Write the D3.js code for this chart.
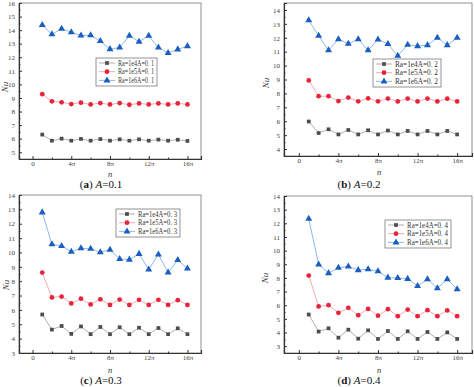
<!DOCTYPE html>
<html><head><meta charset="utf-8">
<script src="https://cdn.jsdelivr.net/npm/d3@7"></script>
<style>body{margin:0;background:#fff}svg{display:block}</style>
</head><body>
<script>
const nValues = [1,2,3,4,5,6,7,8,9,10,11,12,13,14,15,16];
const seriesNames = ["Ra=1e4","Ra=1e5","Ra=1e6"];
const aValues = ["0. 1","0. 2","0. 3","0. 4"];
const captions = ["a","b","c","d"];
const captionA = ["0.1","0.2","0.3","0.4"];
const xTickValues = [0,4,8,12,16];
const xTickLabels = ["0","4π","8π","12π","16π"];

const a1e4 = [6.3,5.85,6.0,5.85,5.98,5.85,5.97,5.85,5.95,5.85,5.95,5.85,5.93,5.85,5.92,5.83];
const a1e5 = [9.28,8.75,8.68,8.55,8.65,8.52,8.62,8.52,8.62,8.5,8.6,8.52,8.6,8.52,8.6,8.52];
const a1e6 = [14.38,13.7,14.1,13.85,13.6,13.62,13.2,12.6,12.72,13.58,13.15,13.58,12.72,12.32,12.58,12.82];

const b1e4 = [5.98,5.15,5.42,5.05,5.37,5.05,5.35,5.05,5.33,5.05,5.3,5.05,5.3,5.05,5.3,5.05];
const b1e5 = [8.93,7.8,7.8,7.45,7.7,7.43,7.65,7.43,7.63,7.42,7.63,7.42,7.63,7.42,7.62,7.42];
const b1e6 = [13.26,12.15,11.1,11.9,11.57,11.9,11.1,11.88,11.55,10.7,11.5,11.4,11.47,12.0,11.47,12.0];

const c1e4 = [5.68,4.63,4.88,4.33,4.85,4.31,4.81,4.31,4.79,4.31,4.76,4.31,4.74,4.31,4.72,4.31];
const c1e5 = [8.6,6.87,6.93,6.45,6.78,6.38,6.74,6.35,6.72,6.35,6.7,6.35,6.7,6.35,6.68,6.35];
const c1e6 = [12.79,10.57,10.45,10.05,10.29,10.25,10.02,10.19,9.54,9.5,9.9,8.81,9.86,8.6,9.47,8.88];

const d1e4 = [5.32,4.07,4.31,3.62,4.21,3.55,4.16,3.53,4.11,3.53,4.09,3.53,4.04,3.53,4.01,3.53];
const d1e5 = [8.17,5.91,6.0,5.44,5.81,5.27,5.73,5.23,5.71,5.2,5.68,5.2,5.64,5.2,5.62,5.2];
const d1e6 = [12.33,8.98,8.35,8.74,8.84,8.57,8.64,8.49,8.02,8.0,7.93,7.41,7.9,7.24,7.9,7.17];

const panelData = [[a1e4,a1e5,a1e6],[b1e4,b1e5,b1e6],[c1e4,c1e5,c1e6],[d1e4,d1e5,d1e6]];
const yDomains = [[4.5,16],[3.5,14.5],[3,14],[2.5,14]];
const yTicks = [[5,6,7,8,9,10,11,12,13,14,15,16],[4,5,6,7,8,9,10,11,12,13,14],[3,4,5,6,7,8,9,10,11,12,13,14],[3,4,5,6,7,8,9,10,11,12,13,14]];

// layout (styling, not data)
const layout = [
  {x0:19,x1:201,y0:3,y1:159,xd:[-1.4,17.4],leg:{x:96,y:58,w:61},ylab:[8,87],xlab:[110,177],cap:[101,188]},
  {x0:284,x1:472,y0:3,y1:156,xd:[-1.5,17.5],leg:{x:373,y:59,w:68},ylab:[269,83],xlab:[379,175],cap:[359,188]},
  {x0:19,x1:201,y0:195,y1:353,xd:[-1.4,17.4],leg:{x:116,y:209,w:64},ylab:[9,285],xlab:[110,373],cap:[101,384]},
  {x0:284,x1:472,y0:196,y1:353,xd:[-1.5,17.5],leg:{x:385,y:220,w:66},ylab:[268,278],xlab:[379,373],cap:[359,384]}
];
const markerColors = ["#4d4d4d","#e8243a","#1a5fc0"];
const lineColors = ["#a6a6a6","#f2a0a8","#7fb2ea"];
const markerTypes = [d3.symbolSquare, d3.symbolCircle, d3.symbolTriangle];
const markerSizes = [14, 18, 21];

const svg = d3.select("body").append("svg").attr("width",474).attr("height",387);
const serif = "'Liberation Serif','DejaVu Serif',serif";

layout.forEach((L,pi)=>{
  const g = svg.append("g");
  const x = d3.scaleLinear().domain(L.xd).range([L.x0,L.x1]);
  const y = d3.scaleLinear().domain(yDomains[pi]).range([L.y1,L.y0]);
  g.append("rect").attr("x",L.x0).attr("y",L.y0).attr("width",L.x1-L.x0).attr("height",L.y1-L.y0)
    .attr("fill","none").attr("stroke","#777").attr("stroke-width",0.8);
  const ya = d3.axisLeft(y).tickValues(yTicks[pi]).tickSize(-3).tickPadding(4).tickFormat(d3.format("d"));
  g.append("g").attr("transform",`translate(${L.x0},0)`).call(ya);
  const yMinor = d3.range(Math.ceil(yDomains[pi][0]*2)/2, yDomains[pi][1]+0.001, 0.5).filter(v=>!yTicks[pi].includes(v));
  g.append("g").attr("transform",`translate(${L.x0},0)`).call(d3.axisLeft(y).tickValues(yMinor).tickSize(-1.5).tickFormat("")).select(".domain").remove();
  const xa = d3.axisBottom(x).tickValues(xTickValues).tickSize(-3).tickPadding(2.5).tickFormat((d,i)=>xTickLabels[i]);
  g.append("g").attr("transform",`translate(0,${L.y1})`).call(xa);
  g.append("g").attr("transform",`translate(0,${L.y1})`).call(d3.axisBottom(x).tickValues([2,6,10,14]).tickSize(-1.5).tickFormat("")).select(".domain").remove();
  g.selectAll(".domain").attr("stroke","#333").attr("stroke-width",1.2);
  g.selectAll(".tick line").attr("stroke","#333");
  g.selectAll(".tick text").attr("font-family",serif).attr("font-size",7).attr("fill","#444");
  panelData[pi].forEach((vals,si)=>{
    const pts = nValues.map((n,i)=>[n,vals[i]]);
    g.append("path").datum(pts).attr("fill","none").attr("stroke",lineColors[si]).attr("stroke-width",0.9)
      .attr("d",d3.line().x(d=>x(d[0])).y(d=>y(d[1])));
    g.selectAll(null).data(pts).enter().append("path")
      .attr("transform",d=>`translate(${x(d[0])},${y(d[1])})`)
      .attr("d",d3.symbol().type(markerTypes[si]).size(markerSizes[si]))
      .attr("fill",markerColors[si]);
  });
  const lg = g.append("g");
  lg.append("rect").attr("x",L.leg.x).attr("y",L.leg.y).attr("width",L.leg.w).attr("height",28)
    .attr("fill","#fff").attr("stroke","#666").attr("stroke-width",0.7);
  seriesNames.forEach((s,si)=>{
    const ry = L.leg.y+5+si*8.7;
    lg.append("line").attr("x1",L.leg.x+3).attr("x2",L.leg.x+19).attr("y1",ry).attr("y2",ry)
      .attr("stroke",lineColors[si]).attr("stroke-width",0.9);
    lg.append("path").attr("transform",`translate(${L.leg.x+11},${ry})`)
      .attr("d",d3.symbol().type(markerTypes[si]).size(markerSizes[si])).attr("fill",markerColors[si]);
    lg.append("text").attr("x",L.leg.x+22).attr("y",ry+2.5).attr("font-family",serif).attr("font-size",7.2)
      .attr("fill","#333").attr("textLength",L.leg.w-25).attr("lengthAdjust","spacingAndGlyphs")
      .text(s+"A="+aValues[pi]);
  });
  g.append("text").attr("transform",`translate(${L.ylab[0]},${L.ylab[1]}) rotate(-90)`).attr("text-anchor","middle")
    .attr("font-family",serif).attr("font-style","italic").attr("font-size",9).attr("fill","#333").text("Nu");
  g.append("text").attr("x",L.xlab[0]).attr("y",L.xlab[1]).attr("text-anchor","middle")
    .attr("font-family",serif).attr("font-style","italic").attr("font-size",8.5).attr("fill","#333").text("n");
  const cap = g.append("text").attr("x",L.cap[0]).attr("y",L.cap[1]).attr("text-anchor","middle")
    .attr("font-family",serif).attr("font-size",11).attr("fill","#111");
  cap.append("tspan").text("(");
  cap.append("tspan").attr("font-weight","bold").text(captions[pi]);
  cap.append("tspan").text(") ");
  cap.append("tspan").attr("font-style","italic").text("A");
  cap.append("tspan").text("="+captionA[pi]);
});
</script>
</body></html>
